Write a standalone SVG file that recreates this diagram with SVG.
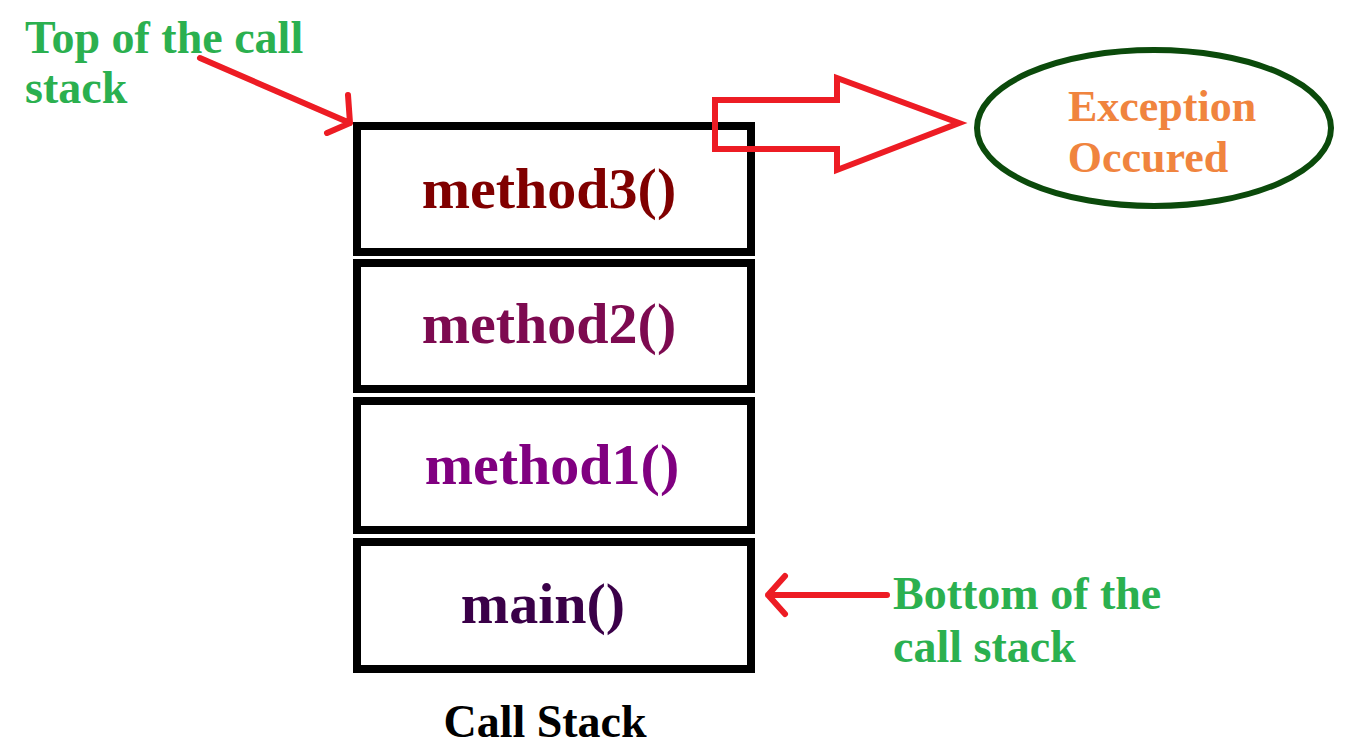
<svg xmlns="http://www.w3.org/2000/svg" width="1362" height="752" viewBox="0 0 1362 752">
<style>
.box{fill:#fff;stroke:#000;stroke-width:8}
.m{font-family:"Liberation Serif","Times New Roman",serif;font-weight:bold;font-size:58px;text-anchor:middle}
.g{font-family:"Liberation Serif","Times New Roman",serif;font-weight:bold;font-size:46px;fill:#2bb04f}
.red{fill:none;stroke:#ed1c24;stroke-width:6;stroke-linecap:round;stroke-linejoin:round}
</style>
<rect width="1362" height="752" fill="#fff"/>
<g id="stack">
<g id="method3"><rect class="box" x="357" y="126" width="394" height="126"/><text class="m" x="549" y="208" fill="#800000">method3()</text></g>
<g id="method2"><rect class="box" x="357" y="263" width="394" height="126"/><text class="m" x="549" y="343" fill="#7d0a50">method2()</text></g>
<g id="method1"><rect class="box" x="357" y="401" width="394" height="129"/><text class="m" x="552" y="484" fill="#800080">method1()</text></g>
<g id="main"><rect class="box" x="357" y="542" width="394" height="127"/><text class="m" x="543" y="623" fill="#3a0048">main()</text></g>
</g>
<g id="call-stack-label"><text x="545" y="737" font-family="Liberation Serif,'Times New Roman',serif" font-weight="bold" font-size="46" text-anchor="middle" fill="#000">Call Stack</text></g>
<g id="top-label"><text class="g"><tspan x="25" y="53">Top of the call</tspan><tspan x="25" y="103">stack</tspan></text></g>
<g id="bottom-label"><text class="g"><tspan x="893" y="609">Bottom of the</tspan><tspan x="893" y="662">call stack</tspan></text></g>
<g id="exception">
<ellipse cx="1154" cy="128" rx="177" ry="78" fill="#fff" stroke="#0b4a0b" stroke-width="6"/>
<text font-family="Liberation Serif,'Times New Roman',serif" font-weight="bold" font-size="44" fill="#f0843e" text-anchor="middle"><tspan x="1162" y="121">Exception</tspan><tspan x="1148" y="172">Occured</tspan></text>
</g>
<g id="connectors">
<path class="red" d="M200 58 L350 123 M348 95 L350 123 L327 133"/>
<path class="red" d="M887 595 L768 595 M785 576 L768 595 L785 614"/>
<path d="M715 100 L837 100 L837 78 L959 123 L837 170 L837 149 L715 149 Z" fill="none" stroke="#ed1c24" stroke-width="6" stroke-linejoin="miter"/>
</g>
</svg>
